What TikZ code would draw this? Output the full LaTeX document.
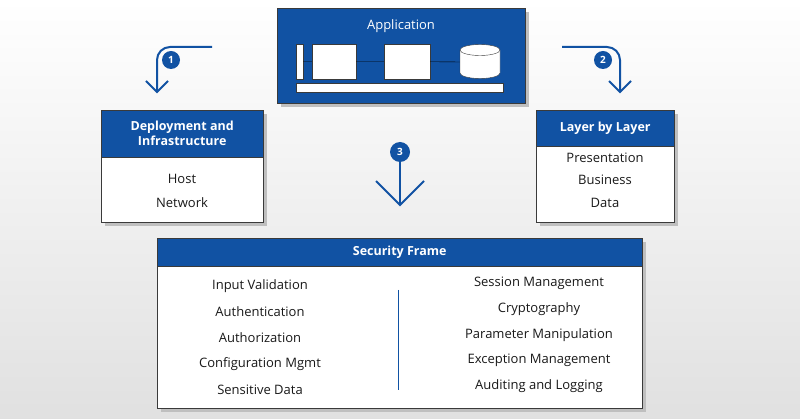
\documentclass[tikz,border=0pt]{standalone}
\usepackage{fontspec}
\setmainfont{Open Sans}
\usetikzlibrary{shapes.geometric,positioning}
\definecolor{frameblue}{HTML}{1152A3}
\definecolor{edgegray}{HTML}{3A3A3A}
\begin{document}
\begin{tikzpicture}[x=1pt,y=-1pt,
  every node/.style={font=\fontsize{13}{15.5}\selectfont, inner sep=0pt},
  hdr/.style={fill=frameblue, draw=edgegray, text=white, font=\fontsize{12.5}{15}\selectfont\bfseries, align=center},
  panel/.style={fill=white, draw=edgegray, line width=0.8pt},
  shade/.style={fill=black!25},
  badge/.style={circle, fill=frameblue, text=white, minimum size=18pt, font=\fontsize{10}{12}\selectfont\bfseries},
  flow/.style={draw=frameblue, line width=2pt},
  item/.style={text=black!90}]
% background
\shade[top color=white, bottom color=black!12] (0,0) rectangle (800,419);
\useasboundingbox (0,0) rectangle (800,419);
% application
\fill[shade] (281,12) rectangle (529,107);
\node[fill=frameblue, draw=edgegray, minimum width=248pt, minimum height=95pt, anchor=north west] (app) at (277,8) {};
\node[text=white] (apptitle) at (401,26) {Application};
\node[fill=white, draw=edgegray, minimum width=7pt, minimum height=35pt] (bar) at (299.5,61.5) {};
\node[fill=white, draw=edgegray, minimum width=44pt, minimum height=35pt] (boxa) at (334,61.5) {};
\node[fill=white, draw=edgegray, minimum width=46pt, minimum height=35pt] (boxb) at (407,61.5) {};
\coordinate (store) at (460,62);
\draw[black] (bar) -- (boxa) (boxa) -- (boxb) (boxb) -- (store);
\draw[fill=white, draw=edgegray] (460,50) -- (460,73) arc (180:0:20 and 5.5) -- (500,50) arc (0:-180:20 and 5.5) -- cycle;
\draw[draw=edgegray] (460,50) arc (180:0:20 and 5.5);
\node[fill=white, draw=edgegray, minimum width=207pt, minimum height=9pt] (base) at (399.5,87.5) {};
% flow 1
\coordinate (s1) at (212,47);
\coordinate (e1) at (157,92);
\draw[flow] (s1) -- (170,47) arc (270:180:13) -- (e1);
\draw[flow] (146,81) -- (e1) -- (168,81);
\node[badge] (b1) at (171,60) {1};
% flow 2
\coordinate (s2) at (562,47);
\coordinate (e2) at (620,92);
\draw[flow] (s2) -- (607,47) arc (270:360:13) -- (e2);
\draw[flow] (609,81) -- (e2) -- (631,81);
\node[badge] (b2) at (603,60) {2};
% flow 3
\node[badge, minimum size=20pt] (b3) at (400,152) {3};
\coordinate (e3) at (400,205);
\draw[flow] (b3) -- (e3);
\draw[flow] (376,181) -- (e3) -- (424,181);
% deployment
\fill[shade] (105,114) rectangle (267,226);
\draw[panel] (101,110) rectangle (263,222);
\node[hdr, minimum width=162pt, minimum height=47pt, anchor=north west] (dephdr) at (101,110) {Deployment and\\Infrastructure};
\node[item] (host) at (182,179) {Host};
\node[item] (net) at (182,203) {Network};
% layer
\fill[shade] (540,114) rectangle (678,226);
\draw[panel] (536,110) rectangle (674,222);
\node[hdr, minimum width=138pt, minimum height=36pt, anchor=north west] (layhdr) at (536,110) {Layer by Layer};
\node[item] (pres) at (605,158) {Presentation};
\node[item] (bus) at (605,180) {Business};
\node[item] (data) at (605,203) {Data};
% security frame
\fill[shade] (161,242) rectangle (646,412);
\draw[panel] (157,238) rectangle (642,408);
\node[hdr, minimum width=485pt, minimum height=28pt, anchor=north west] (sechdr) at (157,238) {Security Frame};
\foreach \t [count=\i] in {Input Validation, Authentication, Authorization, Configuration Mgmt, Sensitive Data}
  \node[item] (l\i) at (260,{260+26*\i}) {\t};
\foreach \t [count=\i] in {Session Management, Cryptography, Parameter Manipulation, Exception Management, Auditing and Logging}
  \node[item] (r\i) at (539,{257.5+25.8*\i}) {\t};
\coordinate (dtop) at (398,290);
\coordinate (dbot) at (398,390);
\draw[frameblue, line width=1pt] (dtop) -- (dbot);
\end{tikzpicture}
\end{document}
